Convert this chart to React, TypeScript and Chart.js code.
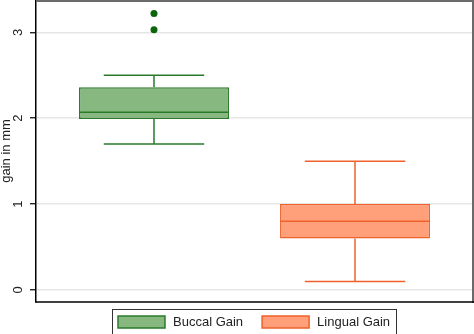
import React, { useEffect, useRef } from "react";
import { Chart, registerables } from "chart.js";

Chart.register(...registerables);

const seriesNames = ["Buccal Gain", "Lingual Gain"];
const positions = [1, 2];
const q1 = [1.99, 0.6];
const medians = [2.07, 0.8];
const q3 = [2.36, 1.0];
const whiskerLow = [1.7, 0.1];
const whiskerHigh = [2.5, 1.5];
const outlierX = [1, 1];
const outlierY = [3.22, 3.03];
const yTicks = [0, 1, 2, 3];
const yTitle = "gain in mm";

const fills = ["#87b87f", "#ffa07a"];
const borders = ["#2b7a2b", "#f0622c"];
const outlierColor = "#0b650b";
const FONT = "'Liberation Sans', Arial, sans-serif";

const boxWidthFrac = 0.746;
const capWidth = 0.5;

const boxPlugin = {
  id: "boxWhiskers",
  afterDatasetsDraw(chart: any) {
    const { ctx, scales } = chart;
    const xs = scales.x;
    const ys = scales.y;
    ctx.save();
    for (let i = 0; i < positions.length; i++) {
      const cx = xs.getPixelForValue(positions[i]);
      const half = xs.getPixelForValue(positions[i] + boxWidthFrac / 2) - cx;
      const capHalf = xs.getPixelForValue(positions[i] + capWidth / 2) - cx;
      ctx.strokeStyle = borders[i];
      ctx.lineWidth = 1.5;
      ctx.beginPath();
      const my = ys.getPixelForValue(medians[i]);
      ctx.moveTo(cx - half, my);
      ctx.lineTo(cx + half, my);
      const yq3 = ys.getPixelForValue(q3[i]);
      const yhi = ys.getPixelForValue(whiskerHigh[i]);
      ctx.moveTo(cx, yq3);
      ctx.lineTo(cx, yhi);
      ctx.moveTo(cx - capHalf, yhi);
      ctx.lineTo(cx + capHalf, yhi);
      const yq1 = ys.getPixelForValue(q1[i]);
      const ylo = ys.getPixelForValue(whiskerLow[i]);
      ctx.moveTo(cx, yq1);
      ctx.lineTo(cx, ylo);
      ctx.moveTo(cx - capHalf, ylo);
      ctx.lineTo(cx + capHalf, ylo);
      ctx.stroke();
    }
    ctx.restore();
  },
};

const framePlugin = {
  id: "frameAndLegend",
  afterDraw(chart: any) {
    const { ctx, chartArea } = chart;
    const { left, right, top, bottom } = chartArea;
    ctx.save();
    ctx.strokeStyle = "#6a6a6a";
    ctx.lineWidth = 2;
    ctx.beginPath();
    ctx.moveTo(left, top + 1);
    ctx.lineTo(right + 2, top + 1);
    ctx.moveTo(right + 1, top);
    ctx.lineTo(right + 1, bottom + 1);
    ctx.stroke();
    ctx.strokeStyle = "#000";
    ctx.lineWidth = 1.5;
    ctx.beginPath();
    ctx.moveTo(left - 0.75, bottom);
    ctx.lineTo(right + 2, bottom);
    ctx.stroke();

    ctx.font = "13px " + FONT;
    const swW = 47;
    const swH = 12;
    const gapText = 8;
    const gapItems = 19;
    const pad = 6;
    const widths = seriesNames.map((n) => swW + gapText + ctx.measureText(n).width);
    const total = widths.reduce((a, b) => a + b, 0) + gapItems * (widths.length - 1);
    const cxc = (left + right) / 2;
    const x0 = Math.round(cxc - total / 2);
    const ly = bottom + 20;
    ctx.strokeStyle = "#333";
    ctx.lineWidth = 1;
    ctx.strokeRect(Math.round(x0 - pad) + 0.5, bottom + 7.5, Math.round(total + 2 * pad), 40);
    let x = x0;
    seriesNames.forEach((n, i) => {
      ctx.fillStyle = fills[i];
      ctx.fillRect(x, ly - swH / 2, swW, swH);
      ctx.strokeStyle = borders[i];
      ctx.lineWidth = 1.5;
      ctx.strokeRect(x, ly - swH / 2, swW, swH);
      ctx.fillStyle = "#222";
      ctx.textAlign = "left";
      ctx.textBaseline = "middle";
      ctx.fillText(n, x + swW + gapText, ly);
      x += widths[i] + gapItems;
    });
    ctx.restore();
  },
};

export default function App() {
  const ref = useRef<HTMLCanvasElement | null>(null);
  useEffect(() => {
    if (!ref.current) return;
    const datasets: any[] = seriesNames.map((name, i) => ({
      type: "bar",
      label: name,
      data: [{ x: positions[i], y: [q1[i], q3[i]] }],
      backgroundColor: fills[i],
      borderColor: borders[i],
      borderWidth: 1.5,
      borderSkipped: false,
      grouped: false,
      categoryPercentage: 1,
      barPercentage: boxWidthFrac,
    }));
    datasets.push({
      type: "scatter",
      label: "outliers",
      data: outlierX.map((xv, i) => ({ x: xv, y: outlierY[i] })),
      backgroundColor: outlierColor,
      borderColor: outlierColor,
      pointRadius: 3.5,
      borderWidth: 0,
      showLine: false,
    });
    const chart = new Chart(ref.current, {
      type: "bar",
      data: { datasets },
      options: {
        animation: false,
        responsive: false,
        events: [],
        layout: { autoPadding: false, padding: { top: 0, right: 2, bottom: 32, left: 0 } },
        plugins: { legend: { display: false }, tooltip: { enabled: false } },
        scales: {
          x: {
            type: "linear",
            display: false,
            offset: false,
            min: 0.413,
            max: 2.582,
            grid: { offset: false },
            afterBuildTicks: (s: any) => {
              s.ticks = positions.map((v) => ({ value: v }));
            },
          },
          y: {
            type: "linear",
            min: -0.14,
            max: 3.376,
            afterBuildTicks: (s: any) => {
              s.ticks = yTicks.map((v) => ({ value: v }));
            },
            afterFit: (s: any) => {
              s.width = 36;
              s.paddingTop = 0;
              s.paddingBottom = 0;
            },
            border: { display: true, color: "#000", width: 1.5 },
            grid: {
              color: "#e6e6e6",
              lineWidth: 1.5,
              tickColor: "#000",
              tickLength: 6,
              tickWidth: 1.2,
            },
            ticks: {
              minRotation: 90,
              maxRotation: 90,
              crossAlign: "center",
              padding: 8,
              color: "#222",
              font: { family: FONT, size: 13 },
            },
            title: {
              display: true,
              text: yTitle,
              color: "#222",
              padding: { top: 0, bottom: 0 },
              font: { family: FONT, size: 13, lineHeight: 1 },
            },
          },
        },
      },
      plugins: [boxPlugin, framePlugin],
    } as any);
    return () => chart.destroy();
  }, []);
  return (
    <div style={{ position: "absolute", left: 0, top: 0, width: 474, height: 334, background: "#fff" }}>
      <canvas ref={ref} width={474} height={334} />
    </div>
  );
}
